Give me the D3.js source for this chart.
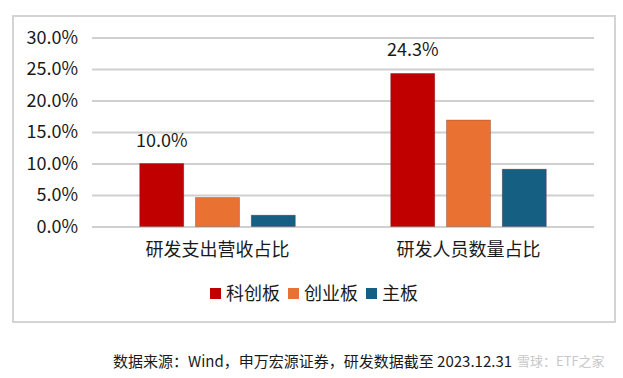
<!DOCTYPE html>
<html>
<head>
<meta charset="utf-8">
<script src="https://cdn.jsdelivr.net/npm/d3@7"></script>
<style>
  body { margin: 0; background: #fff; }
  text { font-family: "Noto Sans CJK SC", "Noto Sans", sans-serif; fill: #1a1a1a; }
</style>
</head>
<body>
<div id="content"></div>
<script>
const categories = ["研发支出营收占比", "研发人员数量占比"];
const seriesNames = ["科创板", "创业板", "主板"];
const kcb = [10.0, 24.3];
const cyb = [4.6, 16.9];
const zb = [1.8, 9.1];
const yTicks = [0, 5, 10, 15, 20, 25, 30];
const colors = ["#c00000", "#e97132", "#156082"];

const width = 623;
const height = 378;
const seriesValues = [kcb, cyb, zb];

const canvas = d3.select("#content")
    .append("svg")
    .attr("width", width)
    .attr("height", height);

// outer frame
canvas.append("rect")
    .attr("x", 13).attr("y", 16)
    .attr("width", 602).attr("height", 306)
    .attr("fill", "none")
    .attr("stroke", "#d4d4d4")
    .attr("stroke-width", 2);

const x0 = d3.scaleBand()
    .domain(categories)
    .range([92, 594])
    .paddingInner(0.38)
    .paddingOuter(0.19);
const x1 = d3.scaleBand()
    .domain(seriesNames)
    .range([0, x0.bandwidth()])
    .paddingInner(0.21);
const yScale = d3.scaleLinear()
    .domain([0, 30])
    .range([226.5, 37.5]);

const yAxis = d3.axisLeft(yScale)
    .tickValues(yTicks)
    .tickSize(-(594 - 92))
    .tickPadding(14)
    .tickFormat(d => d.toFixed(1) + "%");

canvas.append("g")
    .attr("transform", "translate(92, 0)")
    .attr("id", "y-axis")
    .call(yAxis)
    .call(g => g.select(".domain").remove())
    .call(g => g.selectAll(".tick line").attr("stroke", "#d0d0d0").attr("stroke-width", 2))
    .call(g => g.selectAll(".tick text").attr("font-size", 18).attr("fill", "#1a1a1a"));

const groups = canvas.selectAll("g.group")
    .data(categories)
    .enter()
    .append("g")
    .attr("class", "group")
    .attr("transform", d => `translate(${x0(d)}, 0)`);

groups.selectAll("rect")
    .data((c, ci) => seriesNames.map((s, si) => ({ s, v: seriesValues[si][ci], color: colors[si] })))
    .enter()
    .append("rect")
    .attr("x", d => x1(d.s))
    .attr("y", d => yScale(d.v))
    .attr("width", x1.bandwidth())
    .attr("height", d => yScale(0) - yScale(d.v))
    .attr("fill", d => d.color)
    .attr("stroke", "#5a1a1a")
    .attr("stroke-opacity", 0.35)
    .attr("stroke-width", 0.8);

// data labels on 科创板 bars
groups.append("text")
    .attr("x", x1("科创板") + x1.bandwidth() / 2)
    .attr("y", (c, ci) => yScale(kcb[ci]) - 17)
    .attr("text-anchor", "middle")
    .attr("font-size", 18)
    .text((c, ci) => kcb[ci].toFixed(1) + "%");

// category axis labels
canvas.append("g")
    .selectAll("text")
    .data(categories)
    .enter()
    .append("text")
    .attr("x", d => x0(d) + x0.bandwidth() / 2)
    .attr("y", 256)
    .attr("text-anchor", "middle")
    .attr("font-size", 18)
    .text(d => d);

// legend
const legendX = [210, 288, 366];
const legend = canvas.append("g").attr("id", "legend");
seriesNames.forEach((s, i) => {
    legend.append("rect")
        .attr("x", legendX[i]).attr("y", 288)
        .attr("width", 11).attr("height", 11)
        .attr("fill", colors[i]);
    legend.append("text")
        .attr("x", legendX[i] + 16)
        .attr("y", 300)
        .attr("font-size", 18)
        .text(s);
});

// source note
canvas.append("text")
    .attr("x", 113)
    .attr("y", 367)
    .attr("font-size", 15)
    .text("数据来源：Wind，申万宏源证券，研发数据截至 2023.12.31");

// watermark
canvas.append("text")
    .attr("x", 517)
    .attr("y", 366)
    .attr("font-size", 13)
    .style("fill", "#c8c8c8")
    .text("雪球：ETF之家");
</script>
</body>
</html>
